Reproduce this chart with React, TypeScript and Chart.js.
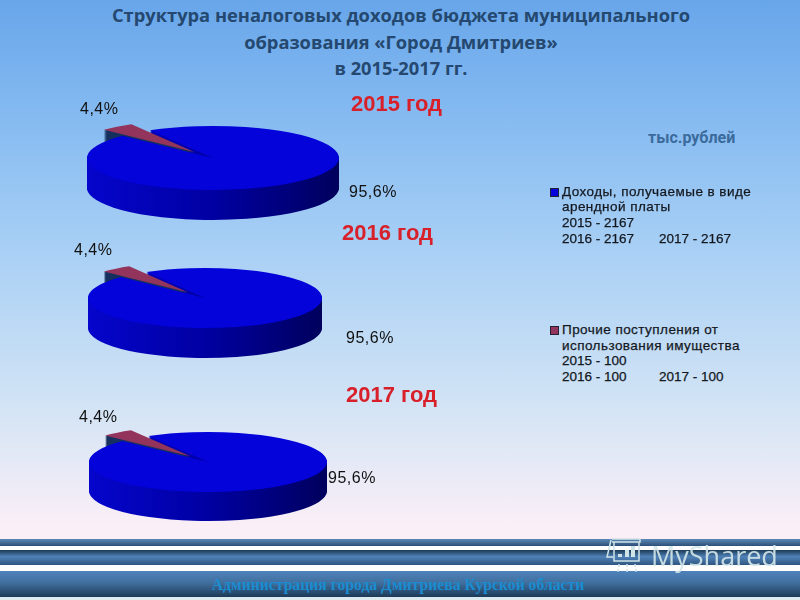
import React, { useRef, useEffect } from 'react';
import { Chart, PieController, ArcElement } from 'chart.js';

Chart.register(PieController, ArcElement);

const categories = ['Доходы, получаемые в виде арендной платы', 'Прочие поступления от использования имущества'];
const years = ['2015 год', '2016 год', '2017 год'];
const values2015 = [2167, 100];
const values2016 = [2167, 100];
const values2017 = [2167, 100];

const TOP_COLOR = '#0303da';
const WEDGE_COLOR = '#93345c';
const WEDGE_WALL = '#16305f';
const PIE_MARGIN = 40;
const EXPLODE = 0.24; // share of the radius the small slice is pulled out by
const SANS = '"Liberation Sans", Arial, sans-serif';
const TITLE_FONT = '"Open Sans", sans-serif';

const pctLabel = (vals: number[], i: number) => {
  const sum = vals.reduce((a, b) => a + b, 0);
  return ((vals[i] / sum) * 100).toFixed(1).replace('.', ',') + '%';
};

// squashes the round pie into an ellipse and extrudes it downwards
const tiltPlugin = {
  id: 'tilt',
  beforeDatasetsDraw(chart: any, _args: any, opts: any) {
    const { ctx } = chart;
    const arcs = chart.getDatasetMeta(0).data;
    const { x: cx, y: cy, outerRadius: r } = arcs[0];
    const k = opts.ry / r;

    const wall = ctx.createLinearGradient(cx - r, 0, cx + r, 0);
    wall.addColorStop(0, '#0505cc');
    wall.addColorStop(0.5, '#0000a2');
    wall.addColorStop(0.8, '#00007a');
    wall.addColorStop(1, '#00005c');

    const paint = (arc: any, color: any, dy: number, pull: number) => {
      const original = arc.options;
      const mid = (arc.startAngle + arc.endAngle) / 2;
      arc.options = {
        backgroundColor: color,
        borderColor: color,
        borderWidth: 0,
        borderAlign: 'center',
        borderRadius: 0,
        spacing: 0,
        circular: true,
        offset: 0,
      };
      ctx.save();
      ctx.translate(cx + Math.cos(mid) * pull, cy + dy + Math.sin(mid) * pull * k);
      ctx.scale(1, k);
      ctx.translate(-cx, -cy);
      arc.draw(ctx);
      ctx.restore();
      arc.options = original;
    };

    const pull = r * EXPLODE;
    for (let d = opts.depth; d >= 1; d--) paint(arcs[0], wall, d, 0);
    for (let d = opts.depth; d >= 1; d--) paint(arcs[1], WEDGE_WALL, d, pull);
    paint(arcs[0], TOP_COLOR, 0, 0);
    paint(arcs[1], WEDGE_COLOR, 0, pull);
    return false;
  },
};

interface PieProps {
  values: number[];
  cx: number;
  cy: number;
  rx: number;
  ry: number;
  depth: number;
}

function YearPie({ values, cx, cy, rx, ry, depth }: PieProps) {
  const canvasRef = useRef<HTMLCanvasElement>(null);
  const size = 2 * rx + 2 * PIE_MARGIN;

  useEffect(() => {
    const canvas = canvasRef.current;
    if (!canvas) return;
    const chart = new Chart(canvas, {
      type: 'pie',
      data: {
        labels: categories,
        datasets: [{
          data: values,
          backgroundColor: [TOP_COLOR, WEDGE_COLOR],
          borderWidth: 0,
        }],
      },
      options: {
        animation: false,
        responsive: false,
        rotation: -30,
        events: [],
        layout: { padding: PIE_MARGIN },
        plugins: { tilt: { ry, depth } } as any,
      },
      plugins: [tiltPlugin],
    });
    return () => chart.destroy();
  }, [values, ry, depth]);

  return (
    <canvas
      ref={canvasRef}
      width={size}
      height={size}
      style={{ position: 'absolute', left: cx - size / 2, top: cy - size / 2, width: size, height: size }}
    />
  );
}

function Txt({ x, y, size, color = '#111', bold, font = SANS, spacing, stroke, children, center }: any) {
  return (
    <div style={{
      position: 'absolute',
      left: center ? x - 400 : x,
      width: center ? 800 : undefined,
      textAlign: center ? 'center' : 'left',
      top: y,
      transform: 'translateY(-50%)',
      fontSize: size,
      lineHeight: 1,
      color,
      letterSpacing: spacing,
      WebkitTextStroke: stroke,
      fontWeight: bold ? 700 : 400,
      fontFamily: font,
      whiteSpace: 'pre',
    }}>{children}</div>
  );
}

function Band({ top, height, background }: any) {
  return <div style={{ position: 'absolute', left: 0, width: 800, top, height, background }} />;
}

function LegendBox({ x, y, color }: any) {
  return <div style={{ position: 'absolute', left: x, top: y, width: 7, height: 7, background: color, border: '0.5px solid #223' }} />;
}

export default function App() {
  const legendStyle = { size: 13.5, color: '#14181f', spacing: 0.45, stroke: '0.25px #14181f' };
  const numStyle = { size: 13.5, color: '#14181f', stroke: '0.25px #14181f' };
  const pctStyle = { size: 16, spacing: 0.5 };
  const titleStyle = { size: 18.3, bold: true, color: '#24486f', font: TITLE_FONT };
  return (
    <div style={{
      position: 'fixed', left: 0, top: 0, width: 800, height: 600, overflow: 'hidden',
      background: 'linear-gradient(180deg, #68a6ea 0%, #86bbf1 20%, #a9d0f5 42%, #d3e4f5 68%, #fbeff7 88%, #fbeff7 100%)',
    }}>
      <Txt center x={401} y={15} {...titleStyle}>Структура неналоговых доходов бюджета муниципального</Txt>
      <Txt center x={401} y={42} {...titleStyle}>образования «Город Дмитриев»</Txt>
      <Txt center x={401} y={68} {...titleStyle}>в 2015-2017 гг.</Txt>

      <YearPie values={values2015} cx={213} cy={158} rx={126} ry={32} depth={30} />
      <YearPie values={values2016} cx={205} cy={298} rx={117} ry={30} depth={30} />
      <YearPie values={values2017} cx={208} cy={462} rx={119} ry={30} depth={29} />

      <Txt x={351} y={104} size={22} bold color="#d8202a">{years[0]}</Txt>
      <Txt x={342} y={233} size={22} bold color="#d8202a">{years[1]}</Txt>
      <Txt x={346} y={395} size={22} bold color="#d8202a">{years[2]}</Txt>

      <Txt x={80} y={109} {...pctStyle}>{pctLabel(values2015, 1)}</Txt>
      <Txt x={349} y={192} {...pctStyle}>{pctLabel(values2015, 0)}</Txt>
      <Txt x={74} y={250} {...pctStyle}>{pctLabel(values2016, 1)}</Txt>
      <Txt x={346} y={338} {...pctStyle}>{pctLabel(values2016, 0)}</Txt>
      <Txt x={79} y={417} {...pctStyle}>{pctLabel(values2017, 1)}</Txt>
      <Txt x={328} y={478} {...pctStyle}>{pctLabel(values2017, 0)}</Txt>

      <Txt x={648} y={138} size={16} bold color="#3b6a9c" font='Roboto, sans-serif'>тыс.рублей</Txt>

      <LegendBox x={550} y={188} color={TOP_COLOR} />
      <Txt x={562} y={192} {...legendStyle}>Доходы, получаемые в виде</Txt>
      <Txt x={562} y={207} {...legendStyle}>арендной платы</Txt>
      <Txt x={562} y={223} {...numStyle}>{`2015 - ${values2015[0]}`}</Txt>
      <Txt x={562} y={239} {...numStyle}>{`2016 - ${values2016[0]}`}</Txt>
      <Txt x={659} y={239} {...numStyle}>{`2017 - ${values2017[0]}`}</Txt>

      <LegendBox x={550} y={326} color={WEDGE_COLOR} />
      <Txt x={562} y={330} {...legendStyle}>Прочие поступления от</Txt>
      <Txt x={562} y={346} {...legendStyle}>использования имущества</Txt>
      <Txt x={562} y={361} {...numStyle}>{`2015 - ${values2015[1]}`}</Txt>
      <Txt x={562} y={377} {...numStyle}>{`2016 - ${values2016[1]}`}</Txt>
      <Txt x={659} y={377} {...numStyle}>{`2017 - ${values2017[1]}`}</Txt>

      <Band top={539} height={7} background="linear-gradient(180deg, #5c8ab8, #2c4f78)" />
      <Band top={546} height={4} background="#ffffff" />
      <Band top={550} height={15} background="linear-gradient(180deg, #1c3a55 0%, #4f82b8 45%, #2f5580 100%)" />
      <Band top={565} height={6} background="#ffffff" />
      <Band top={571} height={26} background="linear-gradient(180deg, #4f82bb 0%, #41709f 45%, #1d3a58 100%)" />
      <Band top={597} height={3} background="#dcebf0" />

      <Txt center x={398} y={585} size={15.7} bold color="#1a8cd0" font='"Liberation Serif", serif'>Администрация города Дмитриева Курской области</Txt>

      <svg width={38} height={38} viewBox="0 0 38 38" style={{ position: 'absolute', left: 606, top: 537 }} fill="none" stroke="#cfe4e6" strokeWidth={1.5}>
        <path d="M6 2H34V5H6M8 5V24H33V5M5 3L1 20H7" />
        <path d="M14 20v-3M21 20v-7M27 20V9" strokeWidth={4} />
        <path d="M13 27L12 35M21 27V35M29 27L30 35" strokeDasharray="3 2" />
      </svg>
      <Txt x={651} y={555} size={27} color="rgba(212,232,234,0.9)" font='"Open Sans", sans-serif'>MyShared</Txt>
    </div>
  );
}
